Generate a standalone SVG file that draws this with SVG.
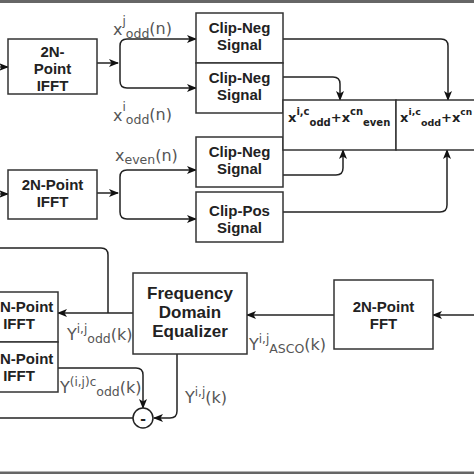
<svg xmlns="http://www.w3.org/2000/svg" width="474" height="474" viewBox="0 0 474 474">
<defs>
<style>
.box{fill:#fff;stroke:#333;stroke-width:1.5}
.bt{font-family:"Liberation Sans",Arial,sans-serif;font-weight:bold;font-size:15px;fill:#222;text-anchor:middle}
.lbl{font-family:"DejaVu Sans",sans-serif;font-size:16px;fill:#555}
.xl{font-family:"DejaVu Sans",sans-serif;font-weight:bold;font-size:13px;fill:#222}
.ln{fill:none;stroke:#222;stroke-width:1.5}
</style>
<marker id="ah" viewBox="0 0 10 8" refX="9" refY="4" markerWidth="10" markerHeight="8" markerUnits="userSpaceOnUse" orient="auto">
<path d="M0,0 L10,4 L0,8 L2.5,4 z" fill="#111"/>
</marker>
</defs>
<rect x="0" y="0" width="474" height="3" fill="#666"/>
<rect x="0" y="471.5" width="474" height="2.5" fill="#666"/>

<g id="connectors">
<path class="ln" d="M0,67 L8,67" marker-end="url(#ah)"/>
<path class="ln" d="M97,63 L118,63" marker-end="url(#ah)"/>
<path class="ln" d="M120,63 L120,46 Q120,39 127,39 L196,39" marker-end="url(#ah)"/>
<path class="ln" d="M120,63 L120,81 Q120,88 127,88 L196,88" marker-end="url(#ah)"/>
<path class="ln" d="M0,194 L8,194" marker-end="url(#ah)"/>
<path class="ln" d="M97,193 L118,193" marker-end="url(#ah)"/>
<path class="ln" d="M120,193 L120,177 Q120,170 127,170 L196,170" marker-end="url(#ah)"/>
<path class="ln" d="M120,193 L120,212 Q120,219 127,219 L196,219" marker-end="url(#ah)"/>
<path class="ln" d="M283,39 L441,39 Q448,39 448,46 L448,100" marker-end="url(#ah)"/>
<path class="ln" d="M283,77 L333,77 Q340,77 340,84 L340,100" marker-end="url(#ah)"/>
<path class="ln" d="M283,175 L336,175 Q343,175 343,168 L343,150" marker-end="url(#ah)"/>
<path class="ln" d="M283,212 L440,212 Q447,212 447,205 L447,150" marker-end="url(#ah)"/>
<path class="ln" d="M474,315 L433,315" marker-end="url(#ah)"/>
<path class="ln" d="M334,315 L247,315" marker-end="url(#ah)"/>
<path class="ln" d="M133,313 L58,313" marker-end="url(#ah)"/>
<path class="ln" d="M0,248 L101,248 Q108,248 108,255 L108,313"/>
<path class="ln" d="M58,368 L136,368 Q143,368 143,375 L143,408" marker-end="url(#ah)"/>
<path class="ln" d="M177,354 L177,411 Q177,418 170,418 L154,418" marker-end="url(#ah)"/>
<path class="ln" d="M0,418 L133,418"/>
</g>

<g id="ifft1"><rect class="box" x="8" y="39" width="89" height="55"/>
<text class="bt" x="52.5" y="57">2N-</text><text class="bt" x="52.5" y="74">Point</text><text class="bt" x="52.5" y="91">IFFT</text></g>
<g id="ifft2"><rect class="box" x="8" y="170" width="89" height="49"/>
<text class="bt" x="52.5" y="190">2N-Point</text><text class="bt" x="52.5" y="207">IFFT</text></g>

<g id="clipneg1"><rect class="box" x="196" y="13" width="87" height="50"/>
<text class="bt" x="239.5" y="33">Clip-Neg</text><text class="bt" x="239.5" y="50">Signal</text></g>
<g id="clipneg2"><rect class="box" x="196" y="63" width="87" height="50"/>
<text class="bt" x="239.5" y="83">Clip-Neg</text><text class="bt" x="239.5" y="100">Signal</text></g>
<g id="clipneg3"><rect class="box" x="196" y="137" width="87" height="50"/>
<text class="bt" x="239.5" y="157">Clip-Neg</text><text class="bt" x="239.5" y="174">Signal</text></g>
<g id="clippos"><rect class="box" x="196" y="192" width="87" height="50"/>
<text class="bt" x="239.5" y="216">Clip-Pos</text><text class="bt" x="239.5" y="233">Signal</text></g>

<g id="sum1"><rect class="box" x="283" y="100" width="113" height="50"/>
<text class="xl" x="288" y="122">x<tspan font-size="10" dy="-7">i,c</tspan><tspan font-size="10" dy="11">odd</tspan><tspan dy="-4">+x</tspan><tspan font-size="10" dy="-7">cn</tspan><tspan font-size="10" dy="11">even</tspan></text></g>
<g id="sum2"><rect class="box" x="396" y="100" width="90" height="50"/>
<text class="xl" x="400" y="122" font-size="12">x<tspan font-size="9.5" dy="-7">i,c</tspan><tspan font-size="9.5" dy="11">odd</tspan><tspan dy="-4">+x</tspan><tspan font-size="9" dy="-7">cn</tspan></text></g>

<g id="labels">
<text class="lbl" x="113" y="35">x<tspan font-size="12" dy="-10">j</tspan><tspan font-size="12.5" dy="13">odd</tspan><tspan dy="-4">(n)</tspan></text>
<text class="lbl" x="113" y="121">x<tspan font-size="12" dy="-10">i</tspan><tspan font-size="12.5" dy="13">odd</tspan><tspan dy="-4">(n)</tspan></text>
<text class="lbl" x="115" y="161">x<tspan font-size="12.5" dy="3">even</tspan><tspan dy="-3">(n)</tspan></text>
<text class="lbl" x="67" y="340">Y<tspan font-size="12" dy="-7">i,j</tspan><tspan font-size="12.5" dy="10">odd</tspan><tspan dy="-3">(k)</tspan></text>
<text class="lbl" x="60" y="393">Y<tspan font-size="12" dy="-7">(i,j)c</tspan><tspan font-size="12.5" dy="10">odd</tspan><tspan dy="-3">(k)</tspan></text>
<text class="lbl" x="185" y="403">Y<tspan font-size="12" dy="-7">i,j</tspan><tspan dy="7">(k)</tspan></text>
<text class="lbl" x="249" y="350">Y<tspan font-size="12" dy="-7">i,j</tspan><tspan font-size="12.5" dy="10">ASCO</tspan><tspan dy="-3">(k)</tspan></text>
</g>

<g id="ifft3"><rect class="box" x="-20" y="292" width="78" height="50"/>
<text class="bt" x="0" y="312" text-anchor="start" style="text-anchor:start">N-Point</text><text class="bt" x="19" y="329">IFFT</text></g>
<g id="ifft4"><rect class="box" x="-20" y="342" width="78" height="50"/>
<text class="bt" x="0" y="364" style="text-anchor:start">N-Point</text><text class="bt" x="19" y="381">IFFT</text></g>

<g id="equalizer"><rect class="box" x="133" y="273" width="114" height="81"/>
<text class="bt" x="190" y="299" style="font-size:17px">Frequency</text><text class="bt" x="190" y="318" style="font-size:17px">Domain</text><text class="bt" x="190" y="337" style="font-size:17px">Equalizer</text></g>
<g id="fft"><rect class="box" x="334" y="280" width="99" height="69"/>
<text class="bt" x="383.5" y="312">2N-Point</text><text class="bt" x="383.5" y="329">FFT</text></g>
<g id="subtract"><circle cx="143" cy="418" r="10" fill="#fff" stroke="#222" stroke-width="1.5"/>
<text class="bt" x="143" y="424" style="font-size:17px">-</text></g>
</svg>
